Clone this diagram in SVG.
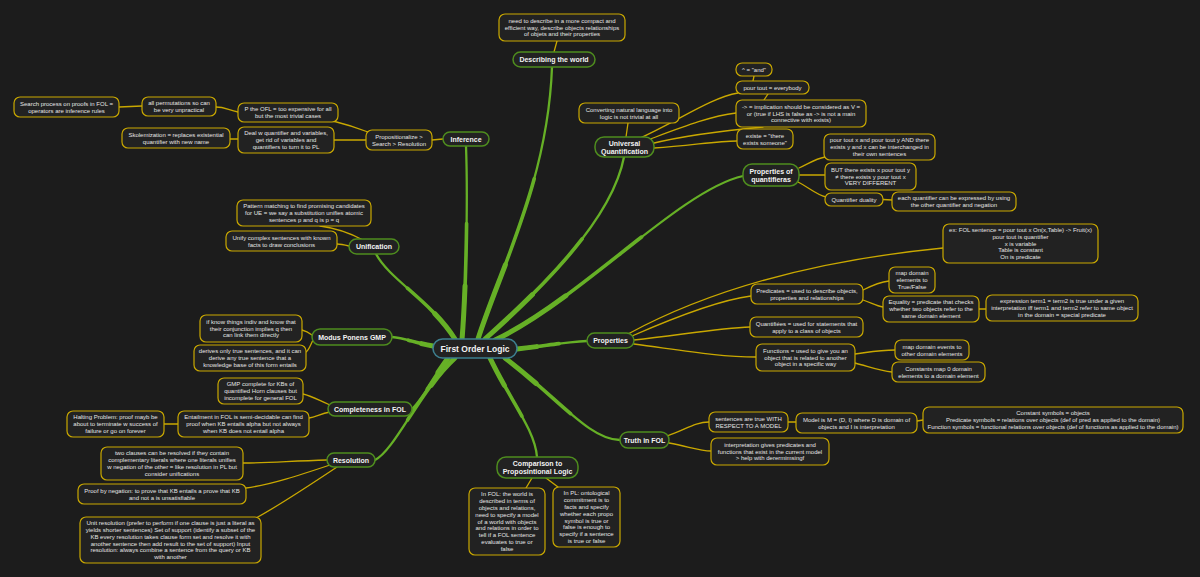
<svg xmlns="http://www.w3.org/2000/svg" width="1200" height="577" viewBox="0 0 1200 577">
<style>
.bg{fill:#1c1c1c}
.n2 rect{fill:#222;stroke:#c9a800;stroke-width:1.2}
.n1 rect{fill:#222;stroke:#4e8c1e;stroke-width:1.5}
.n0 rect{fill:#222;stroke:#3d7f8f;stroke-width:1.6}
.n2 text{font-family:"Liberation Sans",Arial,sans-serif;font-size:6px;fill:#e4e4e4;text-anchor:middle}
.n1 text{font-family:"Liberation Sans",Arial,sans-serif;font-size:7px;font-weight:bold;fill:#f2f2f2;text-anchor:middle}
.n0 text{font-family:"Liberation Sans",Arial,sans-serif;font-size:8.5px;font-weight:bold;fill:#f2f2f2;text-anchor:middle}
.g path{fill:none;stroke:#66b026;stroke-width:2.3;stroke-linecap:round}
.g2 use{stroke-width:3.6;stroke-dasharray:60 200}
.g3 use{stroke-width:5;stroke-dasharray:28 200}
.y path{fill:none;stroke:#c9a800;stroke-width:1.3;stroke-linecap:round}
</style>
<defs>
<path id="b1" pathLength="100" d="M462,340 C466,290 468,200 466,146"/>
<path id="b2" pathLength="100" d="M478,339 C500,270 548,180 552,67"/>
<path id="b3" pathLength="100" d="M485,339 C540,290 612,220 624,157"/>
<path id="b4" pathLength="100" d="M495,340 C580,300 680,190 743,176"/>
<path id="b5" pathLength="100" d="M517,349 C545,346 565,342 587,341"/>
<path id="b6" pathLength="100" d="M505,358 C560,400 590,440 620,440"/>
<path id="b7" pathLength="100" d="M490,358 C510,400 535,430 537,457"/>
<path id="b8" pathLength="100" d="M455,358 C420,390 395,450 375,460"/>
<path id="b9" pathLength="100" d="M448,358 C432,380 422,400 412,409"/>
<path id="b10" pathLength="100" d="M433,346 C415,343 405,338 392,337"/>
<path id="b11" pathLength="100" d="M455,339 C430,300 390,280 376,254"/>
</defs>
<rect class="bg" x="0" y="0" width="1200" height="577"/>
<g id="connectors">
<g class="g" fill="none" stroke="#66b026" stroke-linecap="round">
<g stroke-width="2.3">
<use href="#b1"/><use href="#b2"/><use href="#b3"/><use href="#b4"/><use href="#b5"/><use href="#b6"/><use href="#b7"/><use href="#b8"/><use href="#b9"/><use href="#b10"/><use href="#b11"/>
</g>
<g class="g2">
<use href="#b1"/><use href="#b2"/><use href="#b3"/><use href="#b4"/><use href="#b5"/><use href="#b6"/><use href="#b7"/><use href="#b8"/><use href="#b9"/><use href="#b10"/><use href="#b11"/>
</g>
<g class="g3">
<use href="#b1"/><use href="#b2"/><use href="#b3"/><use href="#b4"/><use href="#b5"/><use href="#b6"/><use href="#b7"/><use href="#b8"/><use href="#b9"/><use href="#b10"/><use href="#b11"/>
</g>
</g>
<g class="y">
<path d="M443,139 L432,140"/>
<path d="M368,132 C355,127 345,124 333,121"/>
<path d="M238,112 C228,110 225,107 216,107"/>
<path d="M142,106 L119,107"/>
<path d="M366,140 L334,140"/>
<path d="M238,139 L230,139"/>
<path d="M557,41 L554,52"/>
<path d="M628,123 L626,137"/>
<path d="M638,139 C680,120 710,98 738,93"/>
<path d="M753,81 L754,76"/>
<path d="M768,94 L764,100"/>
<path d="M645,141 C680,128 710,116 736,113"/>
<path d="M650,144 C690,134 730,130 763,127"/>
<path d="M654,148 C690,146 715,141 737,141"/>
<path d="M799,168 C810,163 815,159 825,157"/>
<path d="M799,175 L825,175"/>
<path d="M798,182 C810,188 815,194 826,197"/>
<path d="M883,199.5 L892,200"/>
<path d="M628,334 C700,295 800,262 943,248"/>
<path d="M632,336 C680,315 720,300 751,296"/>
<path d="M863,290 C873,285 880,282 889,281"/>
<path d="M863,300 C872,303 876,306 883,307"/>
<path d="M979,309 L986,309"/>
<path d="M634,340 C680,335 720,328 750,327"/>
<path d="M634,344 C680,350 720,357 756,357"/>
<path d="M855,354 C870,352 880,350 895,350"/>
<path d="M855,363 C870,367 880,371 892,372"/>
<path d="M667,436 C685,430 695,422 709,422"/>
<path d="M669,443 C690,447 700,451 711,451"/>
<path d="M788,422 L796,422"/>
<path d="M917,421 L923,420"/>
<path d="M532,478 L526,488"/>
<path d="M546,478 L558,487"/>
<path d="M327,460 C290,461 270,463 243,463"/>
<path d="M330,465 C300,475 270,485 246,488"/>
<path d="M337,467 C310,485 280,505 256,518"/>
<path d="M330,405 C318,400 312,396 303,394"/>
<path d="M330,412 C320,414 316,417 309,418"/>
<path d="M178,424 L164,424"/>
<path d="M312,335 C308,332 306,331 302,330"/>
<path d="M313,340 C310,346 309,350 306,352"/>
<path d="M363,240 C350,233 335,228 320,226"/>
<path d="M349,246 C345,245 341,244 337,244"/>
</g>
</g>

<g id="center" class="n0"><rect x="433" y="339" width="84" height="19" rx="9.5"/><text x="475" y="351.5">First Order Logic</text></g>

<g id="inference" class="n1"><rect x="443" y="132" width="46" height="14" rx="7"/><text x="466" y="141.5">Inference</text></g>
<g id="describing" class="n1"><rect x="513" y="52" width="82" height="15" rx="7.5"/><text x="554" y="62">Describing the world</text></g>
<g id="universal" class="n1"><rect x="595" y="137" width="59" height="20" rx="9"/><text x="624.5" y="145.5">Universal<tspan x="624.5" dy="8">Quantification</tspan></text></g>
<g id="propquant" class="n1"><rect x="743" y="164" width="56" height="22" rx="9"/><text x="771" y="173.5">Properties of<tspan x="771" dy="8">quantifieras</tspan></text></g>
<g id="properties" class="n1"><rect x="587" y="333" width="47" height="15" rx="7.5"/><text x="610.5" y="343">Properties</text></g>
<g id="truth" class="n1"><rect x="620" y="432" width="49" height="16" rx="8"/><text x="644.5" y="442.5">Truth in FOL</text></g>
<g id="comparison" class="n1"><rect x="497" y="457" width="81" height="21" rx="9"/><text x="537.5" y="466">Comparison to<tspan x="537.5" dy="8">Proposintional Logic</tspan></text></g>
<g id="resolution" class="n1"><rect x="327" y="453" width="48" height="14" rx="7"/><text x="351" y="462.5">Resolution</text></g>
<g id="completeness" class="n1"><rect x="328" y="402" width="84" height="14" rx="7"/><text x="370" y="411.5">Completeness in FOL</text></g>
<g id="modusponens" class="n1"><rect x="312" y="329" width="80" height="16" rx="8"/><text x="352" y="339.5">Modus Ponens GMP</text></g>
<g id="unification" class="n1"><rect x="349" y="239" width="50" height="15" rx="7.5"/><text x="374" y="249">Unification</text></g>

<g id="n-propositionalize" class="n2"><rect x="366" y="130" width="66" height="20" rx="6"/><text x="399" y="138.7">Propositionalize &gt;<tspan x="399" dy="6.8">Search &gt; Resolution</tspan></text></g>
<g id="n-pofl" class="n2"><rect x="238" y="103" width="100" height="19" rx="6"/><text x="288" y="111.2">P the OFL = too expensive for all<tspan x="288" dy="6.8">but the most trivial cases</tspan></text></g>
<g id="n-perm" class="n2"><rect x="142" y="97" width="74" height="19" rx="6"/><text x="179" y="105.2">all permutations so can<tspan x="179" dy="6.8">be very unpractical</tspan></text></g>
<g id="n-search" class="n2"><rect x="14" y="97" width="105" height="20" rx="6"/><text x="66.5" y="105.7">Search process on proofs in FOL =<tspan x="66.5" dy="6.8">operators are inference rules</tspan></text></g>
<g id="n-dealw" class="n2"><rect x="238" y="127" width="96" height="26" rx="6"/><text x="286" y="135.3">Deal w quantifier and variables,<tspan x="286" dy="6.8">get rid of variables and</tspan><tspan x="286" dy="6.8">quantifiers to turn it to PL</tspan></text></g>
<g id="n-skolem" class="n2"><rect x="122" y="128" width="108" height="20" rx="6"/><text x="176" y="136.7">Skolemization = replaces existential<tspan x="176" dy="6.8">quantifier with new name</tspan></text></g>

<g id="n-compact" class="n2"><rect x="499" y="14" width="126" height="27" rx="6"/><text x="562" y="22.8">need to describe in a more compact and<tspan x="562" dy="6.8">efficient way, describe objects relationships</tspan><tspan x="562" dy="6.8">of objets and their properties</tspan></text></g>

<g id="n-converting" class="n2"><rect x="579" y="103" width="100" height="20" rx="6"/><text x="629" y="111.7">Converting natural language into<tspan x="629" dy="6.8">logic is not trivial at all</tspan></text></g>
<g id="n-and" class="n2"><rect x="736" y="63" width="36" height="13" rx="6"/><text x="754" y="71.6">^ = "and"</text></g>
<g id="n-pourtout" class="n2"><rect x="736" y="81" width="73" height="13" rx="6"/><text x="772.5" y="89.6">pour tout = everybody</text></g>
<g id="n-implication" class="n2"><rect x="736" y="100" width="130" height="27" rx="6"/><text x="801" y="108.8">-&gt; = implication should be considered as V =<tspan x="801" dy="6.8">or (true if LHS is false as -&gt; is not a main</tspan><tspan x="801" dy="6.8">connective with exists)</tspan></text></g>
<g id="n-existe" class="n2"><rect x="737" y="129" width="56" height="20" rx="6"/><text x="765" y="137.7">existe = "there<tspan x="765" dy="6.8">exists someone"</tspan></text></g>

<g id="n-interchange" class="n2"><rect x="824" y="134" width="111" height="26" rx="6"/><text x="879.5" y="142.3">pour tout x and pour tout y AND there<tspan x="879.5" dy="6.8">exists y and x can be interchanged in</tspan><tspan x="879.5" dy="6.8">their own sentences</tspan></text></g>
<g id="n-but" class="n2"><rect x="825" y="163" width="91" height="27" rx="6"/><text x="870.5" y="171.8">BUT there exists x pour tout y<tspan x="870.5" dy="6.8">≠ there exists y pour tout x</tspan><tspan x="870.5" dy="6.8">VERY DIFFERENT</tspan></text></g>
<g id="n-duality" class="n2"><rect x="825" y="193" width="58" height="13" rx="6"/><text x="854" y="201.6">Quantifier duality</text></g>
<g id="n-eachq" class="n2"><rect x="892" y="192" width="124" height="19" rx="6"/><text x="954" y="200.2">each quantifier can be expressed by using<tspan x="954" dy="6.8">the other quantifier and negation</tspan></text></g>

<g id="n-ex" class="n2"><rect x="943" y="224" width="155" height="39" rx="6"/><text x="1020.5" y="232">ex: FOL sentence = pour tout x On(x,Table) -&gt; Fruit(x)<tspan x="1020.5" dy="6.8">pour tout is quantifier</tspan><tspan x="1020.5" dy="6.8">x is variable</tspan><tspan x="1020.5" dy="6.8">Table is constant</tspan><tspan x="1020.5" dy="6.8">On is predicate</tspan></text></g>
<g id="n-predicates" class="n2"><rect x="751" y="284" width="112" height="20" rx="6"/><text x="807" y="292.7">Predicates = used to describe objects,<tspan x="807" dy="6.8">properties and relationships</tspan></text></g>
<g id="n-mapdomain" class="n2"><rect x="889" y="267" width="46" height="26" rx="6"/><text x="912" y="275.3">map domain<tspan x="912" dy="6.8">elements to</tspan><tspan x="912" dy="6.8">True/False</tspan></text></g>
<g id="n-equality" class="n2"><rect x="883" y="296" width="96" height="26" rx="6"/><text x="931" y="304.3">Equality = predicate that checks<tspan x="931" dy="6.8">whether two objects refer to the</tspan><tspan x="931" dy="6.8">same domain element</tspan></text></g>
<g id="n-expression" class="n2"><rect x="986" y="295" width="152" height="26" rx="6"/><text x="1062" y="303.3">expression term1 = term2 is true under a given<tspan x="1062" dy="6.8">interpretation iff term1 and term2 refer to same object</tspan><tspan x="1062" dy="6.8">in the domain = special predicate</tspan></text></g>
<g id="n-quantifiees" class="n2"><rect x="750" y="317" width="113" height="20" rx="6"/><text x="806.5" y="325.7">Quantifiées = used for statements that<tspan x="806.5" dy="6.8">apply to a class of objects</tspan></text></g>
<g id="n-functions" class="n2"><rect x="756" y="344" width="99" height="27" rx="6"/><text x="805.5" y="352.8">Functions = used to give you an<tspan x="805.5" dy="6.8">object that is related to another</tspan><tspan x="805.5" dy="6.8">object in a specific way</tspan></text></g>
<g id="n-mapevents" class="n2"><rect x="895" y="340" width="74" height="20" rx="6"/><text x="932" y="348.7">map domain events to<tspan x="932" dy="6.8">other domain elements</tspan></text></g>
<g id="n-constants" class="n2"><rect x="892" y="362" width="93" height="20" rx="6"/><text x="938.5" y="370.7">Constants map 0 domain<tspan x="938.5" dy="6.8">elements to a domain element</tspan></text></g>

<g id="n-sentences" class="n2"><rect x="709" y="412" width="79" height="20" rx="6"/><text x="748.5" y="420.7">sentences are true WITH<tspan x="748.5" dy="6.8">RESPECT TO A MODEL</tspan></text></g>
<g id="n-model" class="n2"><rect x="796" y="413" width="121" height="20" rx="6"/><text x="856.5" y="421.7">Model is M = (D, I) where D is domain of<tspan x="856.5" dy="6.8">objects and I is interpretation</tspan></text></g>
<g id="n-symbols" class="n2"><rect x="923" y="407" width="260" height="26" rx="6"/><text x="1053" y="415.3">Constant symbols = objects<tspan x="1053" dy="6.8">Predicate symbols = relations over objects (def of pred as applied to the domain)</tspan><tspan x="1053" dy="6.8">Function symbols = functional relations over objects (def of functions as applied to the domain)</tspan></text></g>
<g id="n-interpretation" class="n2"><rect x="711" y="438" width="118" height="27" rx="6"/><text x="770" y="446.8">interpretation gives predicates and<tspan x="770" dy="6.8">functions that exist in the current model</tspan><tspan x="770" dy="6.8">&gt; help with derermimsingf</tspan></text></g>

<g id="n-infol" class="n2"><rect x="469" y="488" width="76" height="67" rx="6"/><text x="507" y="496.4">In FOL: the world is<tspan x="507" dy="6.8">described in terms of</tspan><tspan x="507" dy="6.8">objects and relations,</tspan><tspan x="507" dy="6.8">need to specify a model</tspan><tspan x="507" dy="6.8">of a world with objects</tspan><tspan x="507" dy="6.8">and relations in order to</tspan><tspan x="507" dy="6.8">tell if a FOL sentence</tspan><tspan x="507" dy="6.8">evaluates to true or</tspan><tspan x="507" dy="6.8">false</tspan></text></g>
<g id="n-inpl" class="n2"><rect x="553" y="487" width="67" height="60" rx="6"/><text x="586.5" y="495.3">In PL: ontological<tspan x="586.5" dy="6.8">commitment is to</tspan><tspan x="586.5" dy="6.8">facts and specify</tspan><tspan x="586.5" dy="6.8">whether each propo</tspan><tspan x="586.5" dy="6.8">symbol is true or</tspan><tspan x="586.5" dy="6.8">false is enough to</tspan><tspan x="586.5" dy="6.8">specify if a sentence</tspan><tspan x="586.5" dy="6.8">is true or false</tspan></text></g>

<g id="n-twoclauses" class="n2"><rect x="101" y="447" width="142" height="33" rx="6"/><text x="172" y="455.4">two clauses can be resolved if they contain<tspan x="172" dy="6.8">complementary literals where one literals unifies</tspan><tspan x="172" dy="6.8">w negation of the other = like resolution in PL but</tspan><tspan x="172" dy="6.8">consider unifications</tspan></text></g>
<g id="n-proofneg" class="n2"><rect x="78" y="484" width="168" height="20" rx="6"/><text x="162" y="492.7">Proof by negation: to prove that KB entails a prove that KB<tspan x="162" dy="6.8">and not a is unsatisfiable</tspan></text></g>
<g id="n-unitres" class="n2"><rect x="80" y="517" width="181" height="46" rx="6"/><text x="170.5" y="525.1">Unit resolution (prefer to perform if one clause is just a literal as<tspan x="170.5" dy="6.8">yields shorter sentences) Set of support (identify a subset of the</tspan><tspan x="170.5" dy="6.8">KB every resolution takes clause form set and resolve it with</tspan><tspan x="170.5" dy="6.8">another sentence then add result to the set of support) Input</tspan><tspan x="170.5" dy="6.8">resolution: always combine a sentence from the query or KB</tspan><tspan x="170.5" dy="6.8">with another</tspan></text></g>

<g id="n-gmp" class="n2"><rect x="218" y="378" width="85" height="26" rx="6"/><text x="260.5" y="386.3">GMP complete for KBs of<tspan x="260.5" dy="6.8">quantified Horn clauses but</tspan><tspan x="260.5" dy="6.8">incomplete for general FOL</tspan></text></g>
<g id="n-entailment" class="n2"><rect x="178" y="411" width="131" height="26" rx="6"/><text x="243.5" y="419.3">Entailment in FOL is semi-decidable can find<tspan x="243.5" dy="6.8">proof when KB entails alpha but not always</tspan><tspan x="243.5" dy="6.8">when KB does not entail alpha</tspan></text></g>
<g id="n-halting" class="n2"><rect x="67" y="411" width="97" height="26" rx="6"/><text x="115.5" y="419.3">Halting Problem: proof mayb be<tspan x="115.5" dy="6.8">about to terminate w success of</tspan><tspan x="115.5" dy="6.8">failure or go on forever</tspan></text></g>

<g id="n-ifknow" class="n2"><rect x="200" y="315" width="102" height="27" rx="6"/><text x="251" y="323.8">if know things indiv and know that<tspan x="251" dy="6.8">their conjunction implies q then</tspan><tspan x="251" dy="6.8">can link them directly</tspan></text></g>
<g id="n-derives" class="n2"><rect x="194" y="345" width="112" height="26" rx="6"/><text x="250" y="353.3">derives only true sentences, and it can<tspan x="250" dy="6.8">derive any true sentence that a</tspan><tspan x="250" dy="6.8">knowledge base of this form entails</tspan></text></g>

<g id="n-pattern" class="n2"><rect x="237" y="200" width="134" height="26" rx="6"/><text x="304" y="208.3">Pattern matching to find promising candidates<tspan x="304" dy="6.8">for UE = we say a substitution unifies atomic</tspan><tspan x="304" dy="6.8">sentences p and q is p = q</tspan></text></g>
<g id="n-unify" class="n2"><rect x="226" y="231" width="111" height="20" rx="6"/><text x="281.5" y="239.7">Unify complex sentences with known<tspan x="281.5" dy="6.8">facts to draw conclusions</tspan></text></g>
</svg>
